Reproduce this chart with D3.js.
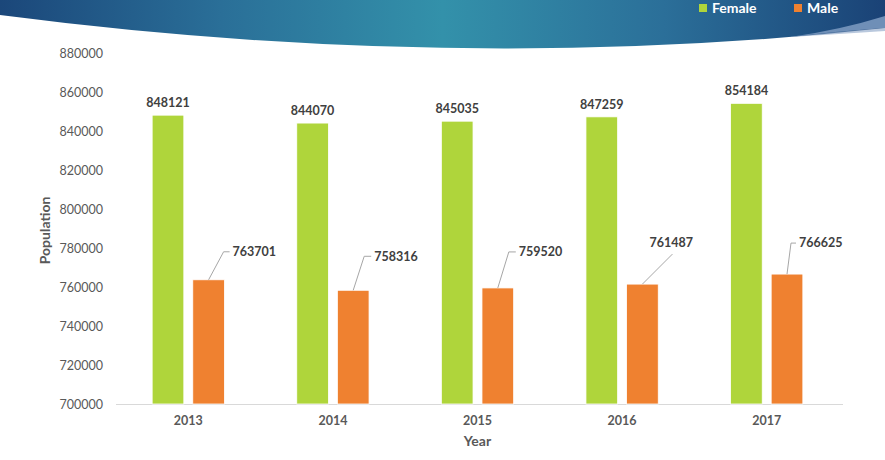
<!DOCTYPE html>
<html>
<head>
<meta charset="utf-8">
<script src="https://cdn.jsdelivr.net/npm/d3@7/dist/d3.min.js"></script>
<style>
  html, body { margin: 0; padding: 0; background: #ffffff; }
  svg { display: block; }
  text { font-family: "Lato", "DejaVu Sans", sans-serif; }
</style>
</head>
<body>
<svg id="chart" width="885" height="460"></svg>
<script>
// ---- data ----
const years = ["2013", "2014", "2015", "2016", "2017"];
const female = [848121, 844070, 845035, 847259, 854184];
const male = [763701, 758316, 759520, 761487, 766625];
const seriesNames = ["Female", "Male"];
const seriesColors = ["#AFD53B", "#EF8130"];
const yTicks = [700000, 720000, 740000, 760000, 780000, 800000, 820000, 840000, 860000, 880000];

// ---- layout (label offsets for male callouts, in px relative to bar top centre) ----
const maleCallout = [
  {dx: 15, dy: -28, lx: 24},
  {dx: 11, dy: -34, lx: 21},
  {dx: 11, dy: -36, lx: 21},
  {dx: 30, dy: -30, lx: 7, under: true},
  {dx: 4,  dy: -31, lx: 12}
];

const svg = d3.select("#chart");
const W = 885, H = 460;
const plot = {left: 116, right: 839, top: 53, bottom: 404};

// ---- banner ----
const defs = svg.append("defs");
const g1 = defs.append("linearGradient").attr("id", "bannerGrad")
  .attr("x1", "0%").attr("x2", "100%").attr("y1", "0%").attr("y2", "0%");
[["0%", "#1b477a"], ["25%", "#2a6f98"], ["50%", "#3391aa"], ["75%", "#2b6f99"], ["100%", "#1a4276"]]
  .forEach(([o, c]) => g1.append("stop").attr("offset", o).attr("stop-color", c));
svg.append("path")
  .attr("d", "M0,0 L885,0 L885,28 Q457.5,74.5 0,15 Z")
  .attr("fill", "url(#bannerGrad)");
svg.append("path")
  .attr("d", "M790,37 Q840,31 885,28 L885,16 Q840,30 790,37 Z")
  .attr("fill", "#6f8fb7");
svg.append("path")
  .attr("d", "M790,37 Q840,31 885,28 L885,31 Q840,34 790,37 Z")
  .attr("fill", "#8aa4c6").attr("opacity", 0.6);

// ---- scales ----
const x0 = d3.scaleBand().domain(years).range([plot.left, plot.right]).paddingInner(0.5).paddingOuter(0.25);
const x1 = d3.scaleBand().domain(seriesNames).range([0, x0.bandwidth()]).paddingInner(0.22);
const y = d3.scaleLinear().domain([700000, 880000]).range([plot.bottom, plot.top]);
const color = d3.scaleOrdinal().domain(seriesNames).range(seriesColors);

// ---- y axis ----
const yAxis = svg.append("g").attr("transform", `translate(${plot.left},0)`)
  .call(d3.axisLeft(y).tickValues(yTicks).tickSize(0).tickPadding(13).tickFormat(d3.format("d")));
yAxis.select(".domain").remove();
yAxis.selectAll("text").attr("fill", "#595959").style("font-size", "12.5px").style("font-family", "Lato, sans-serif");

// ---- x axis ----
const xAxis = svg.append("g").attr("transform", `translate(0,${plot.bottom})`)
  .call(d3.axisBottom(x0).tickSize(0).tickPadding(12));
xAxis.select(".domain").remove();
xAxis.selectAll("text").attr("fill", "#595959").style("font-size", "12.5px").style("font-weight", "bold");
svg.append("line")
  .attr("x1", plot.left).attr("x2", plot.right + 4)
  .attr("y1", plot.bottom + 0.5).attr("y2", plot.bottom + 0.5)
  .attr("stroke", "#d9d9d9").attr("stroke-width", 1.2);

// ---- bars ----
const rows = years.map((yr, i) => ({year: yr, i, values: [
  {key: "Female", value: female[i]}, {key: "Male", value: male[i]}]}));

const groups = svg.append("g").selectAll("g").data(rows).join("g")
  .attr("transform", d => `translate(${x0(d.year)},0)`);
groups.selectAll("rect").data(d => d.values).join("rect")
  .attr("x", d => x1(d.key))
  .attr("y", d => y(d.value))
  .attr("width", x1.bandwidth())
  .attr("height", d => y(700000) - y(d.value))
  .attr("fill", d => color(d.key))
  .attr("stroke", "#ffffff").attr("stroke-width", 0.8);

// ---- female labels ----
svg.append("g").selectAll("text").data(rows).join("text")
  .attr("x", d => x0(d.year) + x1("Female") + x1.bandwidth() / 2)
  .attr("y", d => y(female[d.i]) - 8)
  .attr("text-anchor", "middle")
  .attr("fill", "#404040")
  .style("font-size", "12.5px").style("font-weight", "bold")
  .text(d => female[d.i]);

// ---- male callouts ----
const callouts = svg.append("g");
rows.forEach(d => {
  const c = maleCallout[d.i];
  const bx = x0(d.year) + x1("Male") + x1.bandwidth() / 2;
  const by = y(male[d.i]);
  const ex = bx + c.dx, ey = by + c.dy;
  if (c.under) {
    callouts.append("line").attr("x1", bx).attr("y1", by).attr("x2", ex).attr("y2", ey)
      .attr("stroke", "#a6a6a6").attr("stroke-width", 1);
    callouts.append("text").attr("x", bx + c.lx).attr("y", ey - 7)
      .attr("fill", "#404040").style("font-size", "12.5px").style("font-weight", "bold")
      .text(male[d.i]);
  } else {
    callouts.append("polyline")
      .attr("points", `${bx},${by} ${ex},${ey} ${bx + c.lx - 3},${ey}`)
      .attr("fill", "none").attr("stroke", "#a6a6a6").attr("stroke-width", 1);
    callouts.append("text").attr("x", bx + c.lx).attr("y", ey)
      .attr("dy", "0.35em")
      .attr("fill", "#404040").style("font-size", "12.5px").style("font-weight", "bold")
      .text(male[d.i]);
  }
});

// ---- axis titles ----
svg.append("text")
  .attr("transform", `translate(50,${(plot.top + plot.bottom) / 2 + 2}) rotate(-90)`)
  .attr("text-anchor", "middle").attr("fill", "#595959")
  .style("font-size", "14px").style("font-weight", "bold")
  .text("Population");
svg.append("text")
  .attr("x", (plot.left + plot.right) / 2).attr("y", 446)
  .attr("text-anchor", "middle").attr("fill", "#595959")
  .style("font-size", "14px").style("font-weight", "bold")
  .text("Year");

// ---- legend ----
const legendX = [699, 794];
const legend = svg.append("g").selectAll("g").data(seriesNames).join("g")
  .attr("transform", (d, i) => `translate(${legendX[i]},4)`);
legend.append("rect").attr("width", 8).attr("height", 8).attr("fill", d => color(d));
legend.append("text").attr("x", 13).attr("y", 4).attr("dy", "0.36em")
  .attr("fill", "#ffffff").style("font-size", "14px").style("font-weight", "bold")
  .text(d => d);
</script>
</body>
</html>
